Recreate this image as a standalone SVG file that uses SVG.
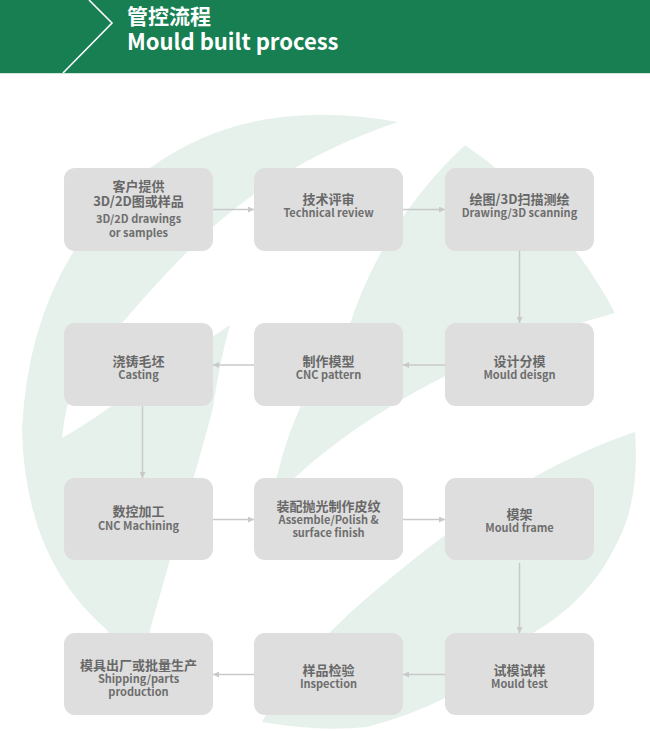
<svg xmlns="http://www.w3.org/2000/svg" width="650" height="731" viewBox="0 0 650 731">
<defs>
<style>
.bg{fill:#e6f1ec}
.box{fill:#dedede}
.cn{font-family:"Noto Sans CJK SC","Noto Sans",sans-serif;font-size:13px;font-weight:700;fill:#686868;text-anchor:middle}
.en{font-family:"Noto Sans CJK SC","Noto Sans",sans-serif;font-size:11px;font-weight:700;fill:#6e6e6e;text-anchor:middle}
.ln{stroke:#c9c9c9;stroke-width:1.5;fill:none}
.hd{font-family:"Noto Sans CJK SC","Noto Sans",sans-serif;font-weight:700;fill:#ffffff}
</style>
<marker id="ah" viewBox="0 0 6 6" refX="6" refY="3" markerWidth="6" markerHeight="6" markerUnits="userSpaceOnUse" orient="auto">
<path d="M0,0 L6,3 L0,6 Z" fill="#c9c9c9"/>
</marker>
</defs>
<rect width="650" height="731" fill="#ffffff"/>
<g id="header">
<rect x="0" y="0" width="650" height="73" fill="#177f52"/>
<line x1="0" y1="73.5" x2="650" y2="73.5" stroke="#cfe4da" stroke-width="1"/>
<polyline points="89,0 112,23 63,73" fill="none" stroke="#ffffff" stroke-width="1.6"/>
<text class="hd" x="127" y="24" font-size="21">管控流程</text>
<text class="hd" x="127" y="50" font-size="22">Mould built process</text>
</g>
<g id="background">
<path class="bg" d="M398,122 Q250,95 150,168 Q30,260 22,430 Q25,560 107,630 Q125,668 145,700 L150,630 Q170,560 187,500 Q205,440 213,407 Q220,360 230,325 Q170,365 110,407 Q85,425 62,438 Q64,420 67,407 Q85,360 123,322 Q150,290 187,252 Q270,165 398,122 Z"/>
<path class="bg" d="M465,145 Q560,210 615,313 Q480,350 385,410 Q320,450 272,500 Q290,400 347,333 Q380,225 465,145 Z"/>
<path class="bg" d="M635,432 Q640,500 617,543 Q590,600 533,633 Q470,700 367,727 Q320,732 262,722 Q300,650 392,577 Q520,470 635,432 Z"/>
</g>
<g id="connectors">
<line class="ln" x1="213" y1="209.5" x2="254" y2="209.5" marker-end="url(#ah)"/>
<line class="ln" x1="403" y1="209.5" x2="445" y2="209.5" marker-end="url(#ah)"/>
<line class="ln" x1="519.5" y1="251" x2="519.5" y2="323" marker-end="url(#ah)"/>
<line class="ln" x1="445" y1="365" x2="403" y2="365" marker-end="url(#ah)"/>
<line class="ln" x1="254" y1="365" x2="213" y2="365" marker-end="url(#ah)"/>
<line class="ln" x1="142.5" y1="406" x2="142.5" y2="478" marker-end="url(#ah)"/>
<line class="ln" x1="213" y1="519.5" x2="254" y2="519.5" marker-end="url(#ah)"/>
<line class="ln" x1="403" y1="519.5" x2="445" y2="519.5" marker-end="url(#ah)"/>
<line class="ln" x1="519.5" y1="563" x2="519.5" y2="633" marker-end="url(#ah)"/>
<line class="ln" x1="445" y1="674.5" x2="403" y2="674.5" marker-end="url(#ah)"/>
<line class="ln" x1="254" y1="674.5" x2="213" y2="674.5" marker-end="url(#ah)"/>
</g>
<g id="n1">
<rect class="box" x="64" y="168" width="149" height="83" rx="11"/>
<text class="cn" x="138.5" y="191">客户提供</text>
<text class="cn" x="138.5" y="206">3D/2D图或样品</text>
<text class="en" x="138.5" y="223">3D/2D drawings</text>
<text class="en" x="138.5" y="237">or samples</text>
</g>
<g id="n2">
<rect class="box" x="254" y="168" width="149" height="83" rx="11"/>
<text class="cn" x="328.5" y="204">技术评审</text>
<text class="en" x="328.5" y="217">Technical review</text>
</g>
<g id="n3">
<rect class="box" x="445" y="168" width="149" height="83" rx="11"/>
<text class="cn" x="519.5" y="204">绘图/3D扫描测绘</text>
<text class="en" x="519.5" y="217">Drawing/3D scanning</text>
</g>
<g id="n4">
<rect class="box" x="445" y="323" width="149" height="83" rx="11"/>
<text class="cn" x="519.5" y="366">设计分模</text>
<text class="en" x="519.5" y="379">Mould deisgn</text>
</g>
<g id="n5">
<rect class="box" x="254" y="323" width="149" height="83" rx="11"/>
<text class="cn" x="328.5" y="366">制作模型</text>
<text class="en" x="328.5" y="379">CNC pattern</text>
</g>
<g id="n6">
<rect class="box" x="64" y="323" width="149" height="83" rx="11"/>
<text class="cn" x="138.5" y="366">浇铸毛坯</text>
<text class="en" x="138.5" y="379">Casting</text>
</g>
<g id="n7">
<rect class="box" x="64" y="478" width="149" height="82" rx="11"/>
<text class="cn" x="138.5" y="516">数控加工</text>
<text class="en" x="138.5" y="530">CNC Machining</text>
</g>
<g id="n8">
<rect class="box" x="254" y="478" width="149" height="82" rx="11"/>
<text class="cn" x="328.5" y="511">装配抛光制作皮纹</text>
<text class="en" x="328.5" y="524">Assemble/Polish &amp;</text>
<text class="en" x="328.5" y="537">surface finish</text>
</g>
<g id="n9">
<rect class="box" x="445" y="478" width="149" height="82" rx="11"/>
<text class="cn" x="519.5" y="519">模架</text>
<text class="en" x="519.5" y="532">Mould frame</text>
</g>
<g id="n10">
<rect class="box" x="445" y="633" width="149" height="82" rx="11"/>
<text class="cn" x="519.5" y="675">试模试样</text>
<text class="en" x="519.5" y="688">Mould test</text>
</g>
<g id="n11">
<rect class="box" x="254" y="633" width="149" height="82" rx="11"/>
<text class="cn" x="328.5" y="675">样品检验</text>
<text class="en" x="328.5" y="688">Inspection</text>
</g>
<g id="n12">
<rect class="box" x="64" y="633" width="149" height="82" rx="11"/>
<text class="cn" x="138.5" y="670">模具出厂或批量生产</text>
<text class="en" x="138.5" y="683">Shipping/parts</text>
<text class="en" x="138.5" y="696">production</text>
</g>
</svg>
